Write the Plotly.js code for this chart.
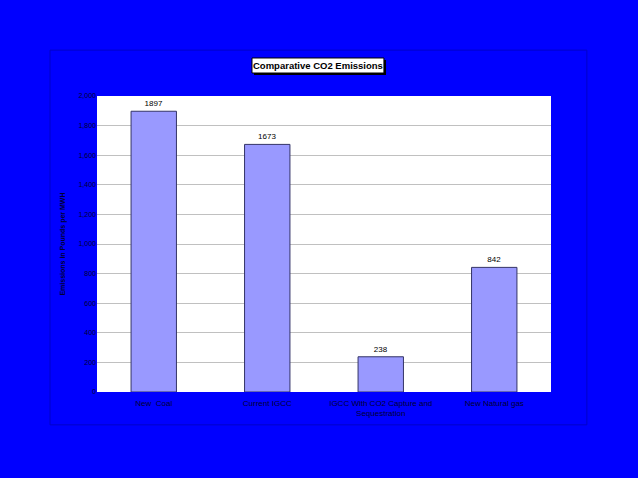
<!DOCTYPE html>
<html>
<head>
<meta charset="utf-8">
<script src="https://cdn.plot.ly/plotly-3.0.1.min.js"></script>
<style>
  html, body { margin: 0; padding: 0; background: #0000ff; }
  #chart { width: 638px; height: 478px; }
</style>
</head>
<body>
<div id="chart"></div>
<script>
// plant types and their CO2 output
var plants = ["New  Coal", "Current IGCC", "IGCC With CO2 Capture and<br>Sequestration", "New Natural gas"];
var emissions = [1897, 1673, 238, 842];
var yTicks = [0, 200, 400, 600, 800, 1000, 1200, 1400, 1600, 1800, 2000];

var bars = {
  x: plants,
  y: emissions,
  type: "bar",
  width: 0.4,
  marker: {
    color: "#9999ff",
    line: { color: "#333366", width: 1 }
  },
  text: emissions.map(String),
  textposition: "outside",
  textfont: { family: "Arial, Liberation Sans, sans-serif", size: 8, color: "#000000" },
  cliponaxis: false,
  hoverinfo: "none"
};

var layout = {
  width: 638,
  height: 478,
  paper_bgcolor: "#0000ff",
  plot_bgcolor: "#ffffff",
  margin: { l: 97, r: 87, t: 96, b: 86 },
  showlegend: false,
  font: { family: "Arial, Liberation Sans, sans-serif", color: "#000000" },
  xaxis: {
    tickfont: { size: 8, color: "#000033" },
    showline: false,
    ticks: "",
    ticklabelstandoff: 5,
    fixedrange: true
  },
  yaxis: {
    range: [0, 2000],
    tickvals: yTicks,
    tickformat: ",",
    tickfont: { size: 7, color: "#000033" },
    gridcolor: "#c0c0c0",
    gridwidth: 1,
    zeroline: false,
    showline: false,
    ticks: "",
    title: {
      text: "Emissions in Pounds per MWH",
      font: { size: 7, color: "#000033", weight: "bold" },
      standoff: 12
    }
  },
  shapes: [
    // outer chart frame
    {
      type: "rect", xref: "paper", yref: "paper",
      x0: -0.1035, x1: 1.079, y0: -0.111, y1: 1.155,
      line: { color: "#0000c8", width: 1 }
    },
    // title shadow
    {
      type: "rect", xref: "paper", yref: "paper",
      x0: 0.3458, x1: 0.6366, y0: 1.0709, y1: 1.1216,
      fillcolor: "#000000", line: { width: 0 }
    },
    // title box
    {
      type: "rect", xref: "paper", yref: "paper",
      x0: 0.3414, x1: 0.632, y0: 1.0777, y1: 1.1284,
      fillcolor: "#ffffff", line: { color: "#000000", width: 1 }
    }
  ],
  annotations: [
    {
      text: "<b>Comparative CO2 Emissions</b>",
      xref: "paper", yref: "paper",
      x: 0.4867, y: 1.103,
      xanchor: "center", yanchor: "middle",
      showarrow: false,
      font: { size: 9.5, color: "#000000" }
    }
  ]
};

Plotly.newPlot("chart", [bars], layout, { staticPlot: true });
</script>
</body>
</html>
